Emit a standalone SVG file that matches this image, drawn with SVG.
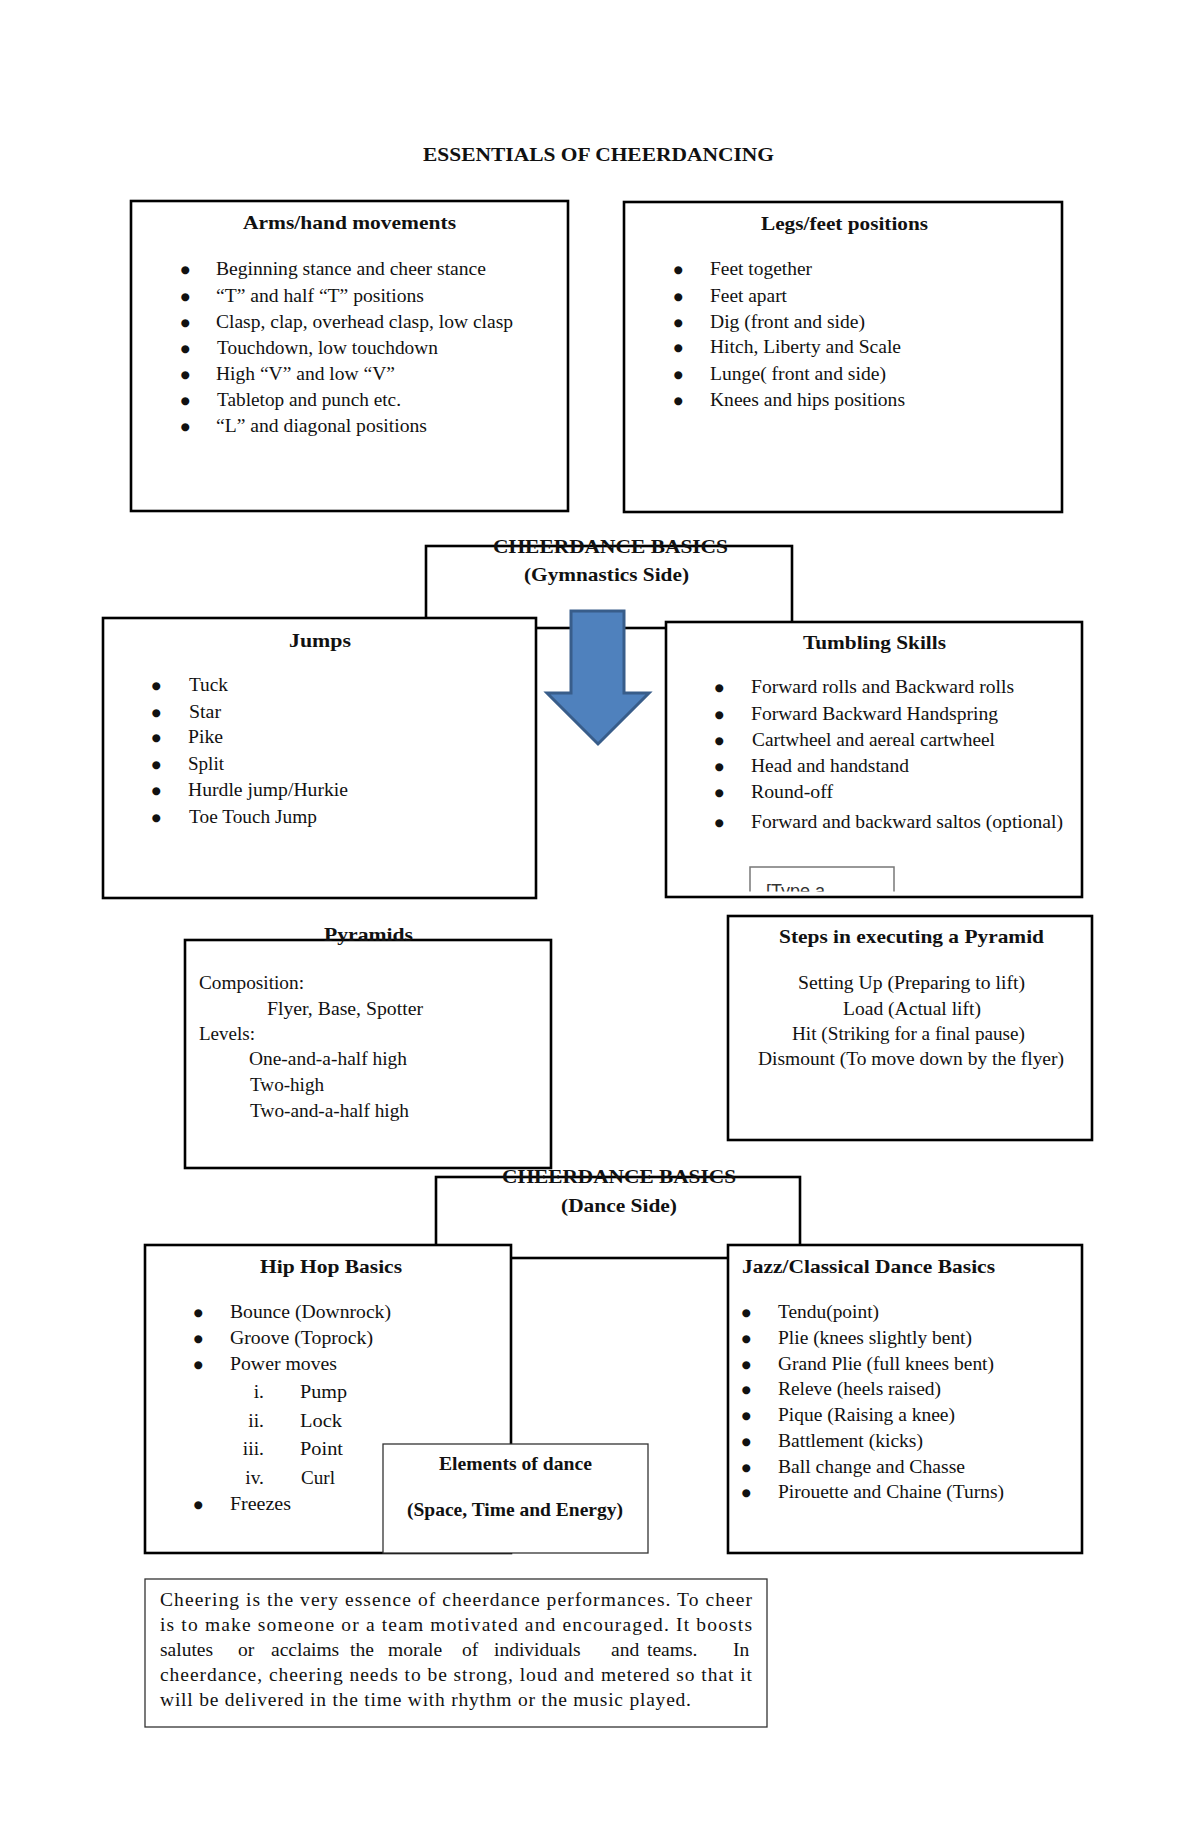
<svg xmlns="http://www.w3.org/2000/svg" width="1200" height="1835" viewBox="0 0 1200 1835">
<style>
.bx{fill:#fff;stroke:#000;stroke-width:2.6}
.tb{fill:#fff;stroke:#333;stroke-width:1.3}
.t{font-family:"Liberation Serif","Times New Roman",serif;font-size:19.5px;fill:#111}
.h{font-weight:bold}
.bu{text-anchor:middle;font-family:"DejaVu Sans",sans-serif;font-size:10.5px;fill:#111}
.r{text-anchor:end}
.ln{fill:none;stroke:#000;stroke-width:2.6}
</style>
<defs>
<clipPath id="clipType"><rect x="740" y="860" width="360" height="31.5"/></clipPath>
</defs>
<rect width="1200" height="1835" fill="#fff"/>

<text class="t h" x="423" y="161" textLength="351" lengthAdjust="spacingAndGlyphs">ESSENTIALS OF CHEERDANCING</text>

<g id="arms">
<rect class="bx" x="131" y="201" width="437" height="310"/>
<text class="t h" x="243" y="229" textLength="213" lengthAdjust="spacingAndGlyphs">Arms/hand movements</text>
<g class="bu"><text x="185" y="273">●</text><text x="185" y="300">●</text><text x="185" y="326">●</text><text x="185" y="352">●</text><text x="185" y="378">●</text><text x="185" y="404">●</text><text x="185" y="430">●</text></g>
<text class="t" x="216" y="275" textLength="270" lengthAdjust="spacingAndGlyphs">Beginning stance and cheer stance</text>
<text class="t" x="216" y="302" textLength="208" lengthAdjust="spacingAndGlyphs">“T” and half “T” positions</text>
<text class="t" x="216" y="328" textLength="297" lengthAdjust="spacingAndGlyphs">Clasp, clap, overhead clasp, low clasp</text>
<text class="t" x="217" y="354" textLength="221" lengthAdjust="spacingAndGlyphs">Touchdown, low touchdown</text>
<text class="t" x="216" y="380" textLength="179" lengthAdjust="spacingAndGlyphs">High “V” and low “V”</text>
<text class="t" x="217" y="406" textLength="184" lengthAdjust="spacingAndGlyphs">Tabletop and punch etc.</text>
<text class="t" x="216" y="432" textLength="211" lengthAdjust="spacingAndGlyphs">“L” and diagonal positions</text>
</g>

<g id="legs">
<rect class="bx" x="624" y="202" width="438" height="310"/>
<text class="t h" x="761" y="230" textLength="167" lengthAdjust="spacingAndGlyphs">Legs/feet positions</text>
<g class="bu"><text x="678" y="273">●</text><text x="678" y="300">●</text><text x="678" y="326">●</text><text x="678" y="351">●</text><text x="678" y="378">●</text><text x="678" y="404">●</text></g>
<text class="t" x="710" y="275" textLength="102" lengthAdjust="spacingAndGlyphs">Feet together</text>
<text class="t" x="710" y="302" textLength="77" lengthAdjust="spacingAndGlyphs">Feet apart</text>
<text class="t" x="710" y="328" textLength="155" lengthAdjust="spacingAndGlyphs">Dig (front and side)</text>
<text class="t" x="710" y="353" textLength="191" lengthAdjust="spacingAndGlyphs">Hitch, Liberty and Scale</text>
<text class="t" x="710" y="380" textLength="176" lengthAdjust="spacingAndGlyphs">Lunge( front and side)</text>
<text class="t" x="710" y="406" textLength="195" lengthAdjust="spacingAndGlyphs">Knees and hips positions</text>
</g>

<g id="connectors">
<rect class="ln" x="426" y="546" width="366" height="82"/>
<rect class="ln" x="436" y="1177" width="364" height="81"/>
</g>

<g id="gym-header">
<text class="t h" x="493" y="553" textLength="235" lengthAdjust="spacingAndGlyphs">CHEERDANCE BASICS</text>
<text class="t h" x="524" y="581" textLength="165" lengthAdjust="spacingAndGlyphs">(Gymnastics Side)</text>
</g>

<g id="jumps">
<rect class="bx" x="103" y="618" width="433" height="280"/>
<text class="t h" x="289" y="647" textLength="62" lengthAdjust="spacingAndGlyphs">Jumps</text>
<g class="bu"><text x="156" y="689">●</text><text x="156" y="716">●</text><text x="156" y="741">●</text><text x="156" y="768">●</text><text x="156" y="794">●</text><text x="156" y="821">●</text></g>
<text class="t" x="189" y="691" textLength="39" lengthAdjust="spacingAndGlyphs">Tuck</text>
<text class="t" x="189" y="718" textLength="32" lengthAdjust="spacingAndGlyphs">Star</text>
<text class="t" x="188" y="743" textLength="35" lengthAdjust="spacingAndGlyphs">Pike</text>
<text class="t" x="188" y="770" textLength="36" lengthAdjust="spacingAndGlyphs">Split</text>
<text class="t" x="188" y="796" textLength="160" lengthAdjust="spacingAndGlyphs">Hurdle jump/Hurkie</text>
<text class="t" x="189" y="823" textLength="128" lengthAdjust="spacingAndGlyphs">Toe Touch Jump</text>
</g>

<g id="tumbling">
<rect class="bx" x="666" y="622" width="416" height="275"/>
<text class="t h" x="803" y="649" textLength="143" lengthAdjust="spacingAndGlyphs">Tumbling Skills</text>
<g class="bu"><text x="719" y="691">●</text><text x="719" y="718">●</text><text x="719" y="744">●</text><text x="719" y="770">●</text><text x="719" y="796">●</text><text x="719" y="826">●</text></g>
<text class="t" x="751" y="693" textLength="263" lengthAdjust="spacingAndGlyphs">Forward rolls and Backward rolls</text>
<text class="t" x="751" y="720" textLength="247" lengthAdjust="spacingAndGlyphs">Forward Backward Handspring</text>
<text class="t" x="752" y="746" textLength="243" lengthAdjust="spacingAndGlyphs">Cartwheel and aereal cartwheel</text>
<text class="t" x="751" y="772" textLength="158" lengthAdjust="spacingAndGlyphs">Head and handstand</text>
<text class="t" x="751" y="798" textLength="82" lengthAdjust="spacingAndGlyphs">Round-off</text>
<text class="t" x="751" y="828" textLength="312" lengthAdjust="spacingAndGlyphs">Forward and backward saltos (optional)</text>
<g clip-path="url(#clipType)">
<path d="M750,893 V867 H894 V893" fill="none" stroke="#777" stroke-width="1.5"/>
<text x="766" y="897" font-family="'Liberation Sans',Arial,sans-serif" font-size="18" fill="#333">[Type a</text>
</g>
</g>

<g id="arrow">
<polygon points="571,611 624,611 624,693 649,693 598,744 547,693 571,693" fill="#4F81BD" stroke="#385D8A" stroke-width="3" stroke-linejoin="miter"/>
</g>

<g id="pyramids">
<rect class="bx" x="185" y="940" width="366" height="228"/>
<text class="t h" x="324" y="941" textLength="89" lengthAdjust="spacingAndGlyphs">Pyramids</text>
<text class="t" x="199" y="989" textLength="105" lengthAdjust="spacingAndGlyphs">Composition:</text>
<text class="t" x="267" y="1015" textLength="156" lengthAdjust="spacingAndGlyphs">Flyer, Base, Spotter</text>
<text class="t" x="199" y="1040" textLength="56" lengthAdjust="spacingAndGlyphs">Levels:</text>
<text class="t" x="249" y="1065" textLength="158" lengthAdjust="spacingAndGlyphs">One-and-a-half high</text>
<text class="t" x="250" y="1091" textLength="74" lengthAdjust="spacingAndGlyphs">Two-high</text>
<text class="t" x="250" y="1117" textLength="159" lengthAdjust="spacingAndGlyphs">Two-and-a-half high</text>
</g>

<g id="steps">
<rect class="bx" x="728" y="916" width="364" height="224"/>
<text class="t h" x="779" y="943" textLength="265" lengthAdjust="spacingAndGlyphs">Steps in executing a Pyramid</text>
<text class="t" x="798" y="989" textLength="227" lengthAdjust="spacingAndGlyphs">Setting Up (Preparing to lift)</text>
<text class="t" x="843" y="1015" textLength="138" lengthAdjust="spacingAndGlyphs">Load (Actual lift)</text>
<text class="t" x="792" y="1040" textLength="233" lengthAdjust="spacingAndGlyphs">Hit (Striking for a final pause)</text>
<text class="t" x="758" y="1065" textLength="306" lengthAdjust="spacingAndGlyphs">Dismount (To move down by the flyer)</text>
</g>

<g id="dance-header">
<text class="t h" x="502" y="1183" textLength="234" lengthAdjust="spacingAndGlyphs">CHEERDANCE BASICS</text>
<text class="t h" x="561" y="1212" textLength="116" lengthAdjust="spacingAndGlyphs">(Dance Side)</text>
</g>

<g id="hiphop">
<rect class="bx" x="145" y="1245" width="366" height="308"/>
<text class="t h" x="260" y="1273" textLength="142" lengthAdjust="spacingAndGlyphs">Hip Hop Basics</text>
<g class="bu"><text x="198" y="1316">●</text><text x="198" y="1342">●</text><text x="198" y="1368">●</text><text x="198" y="1508">●</text></g>
<text class="t" x="230" y="1318" textLength="161" lengthAdjust="spacingAndGlyphs">Bounce (Downrock)</text>
<text class="t" x="230" y="1344" textLength="143" lengthAdjust="spacingAndGlyphs">Groove (Toprock)</text>
<text class="t" x="230" y="1370" textLength="107" lengthAdjust="spacingAndGlyphs">Power moves</text>
<text class="t r" x="264" y="1398">i.</text>
<text class="t r" x="264" y="1427">ii.</text>
<text class="t r" x="264" y="1455">iii.</text>
<text class="t r" x="264" y="1484">iv.</text>
<text class="t" x="300" y="1398" textLength="47" lengthAdjust="spacingAndGlyphs">Pump</text>
<text class="t" x="300" y="1427" textLength="42" lengthAdjust="spacingAndGlyphs">Lock</text>
<text class="t" x="300" y="1455" textLength="43" lengthAdjust="spacingAndGlyphs">Point</text>
<text class="t" x="301" y="1484" textLength="34" lengthAdjust="spacingAndGlyphs">Curl</text>
<text class="t" x="230" y="1510" textLength="61" lengthAdjust="spacingAndGlyphs">Freezes</text>
</g>

<g id="jazz">
<rect class="bx" x="728" y="1245" width="354" height="308"/>
<text class="t h" x="742" y="1273" textLength="253" lengthAdjust="spacingAndGlyphs">Jazz/Classical Dance Basics</text>
<g class="bu"><text x="746" y="1316">●</text><text x="746" y="1342">●</text><text x="746" y="1368">●</text><text x="746" y="1393">●</text><text x="746" y="1419">●</text><text x="746" y="1445">●</text><text x="746" y="1471">●</text><text x="746" y="1496">●</text></g>
<text class="t" x="778" y="1318" textLength="101" lengthAdjust="spacingAndGlyphs">Tendu(point)</text>
<text class="t" x="778" y="1344" textLength="194" lengthAdjust="spacingAndGlyphs">Plie (knees slightly bent)</text>
<text class="t" x="778" y="1370" textLength="216" lengthAdjust="spacingAndGlyphs">Grand Plie (full knees bent)</text>
<text class="t" x="778" y="1395" textLength="163" lengthAdjust="spacingAndGlyphs">Releve (heels raised)</text>
<text class="t" x="778" y="1421" textLength="177" lengthAdjust="spacingAndGlyphs">Pique (Raising a knee)</text>
<text class="t" x="778" y="1447" textLength="145" lengthAdjust="spacingAndGlyphs">Battlement (kicks)</text>
<text class="t" x="778" y="1473" textLength="187" lengthAdjust="spacingAndGlyphs">Ball change and Chasse</text>
<text class="t" x="778" y="1498" textLength="226" lengthAdjust="spacingAndGlyphs">Pirouette and Chaine (Turns)</text>
</g>

<g id="elements">
<rect class="tb" x="383" y="1444" width="265" height="109"/>
<text class="t h" x="439" y="1470" textLength="153" lengthAdjust="spacingAndGlyphs">Elements of dance</text>
<text class="t h" x="407" y="1516" textLength="216" lengthAdjust="spacingAndGlyphs">(Space, Time and Energy)</text>
</g>

<g id="paragraph">
<rect class="tb" x="145" y="1579" width="622" height="148"/>
<text class="t" x="160" y="1606" textLength="592" lengthAdjust="spacing">Cheering is the very essence of cheerdance performances. To cheer</text>
<text class="t" x="160" y="1631" textLength="592" lengthAdjust="spacing">is to make someone or a team motivated and encouraged. It boosts</text>
<text class="t" y="1656"><tspan x="160">salutes</tspan><tspan x="238">or</tspan><tspan x="271">acclaims</tspan><tspan x="350">the</tspan><tspan x="388">morale</tspan><tspan x="462">of</tspan><tspan x="494">individuals</tspan><tspan x="611">and</tspan><tspan x="647">teams.</tspan><tspan x="733">In</tspan></text>
<text class="t" x="160" y="1681" textLength="592" lengthAdjust="spacing">cheerdance, cheering needs to be strong, loud and metered so that it</text>
<text class="t" x="160" y="1706" textLength="531" lengthAdjust="spacing">will be delivered in the time with rhythm or the music played.</text>
</g>
</svg>
